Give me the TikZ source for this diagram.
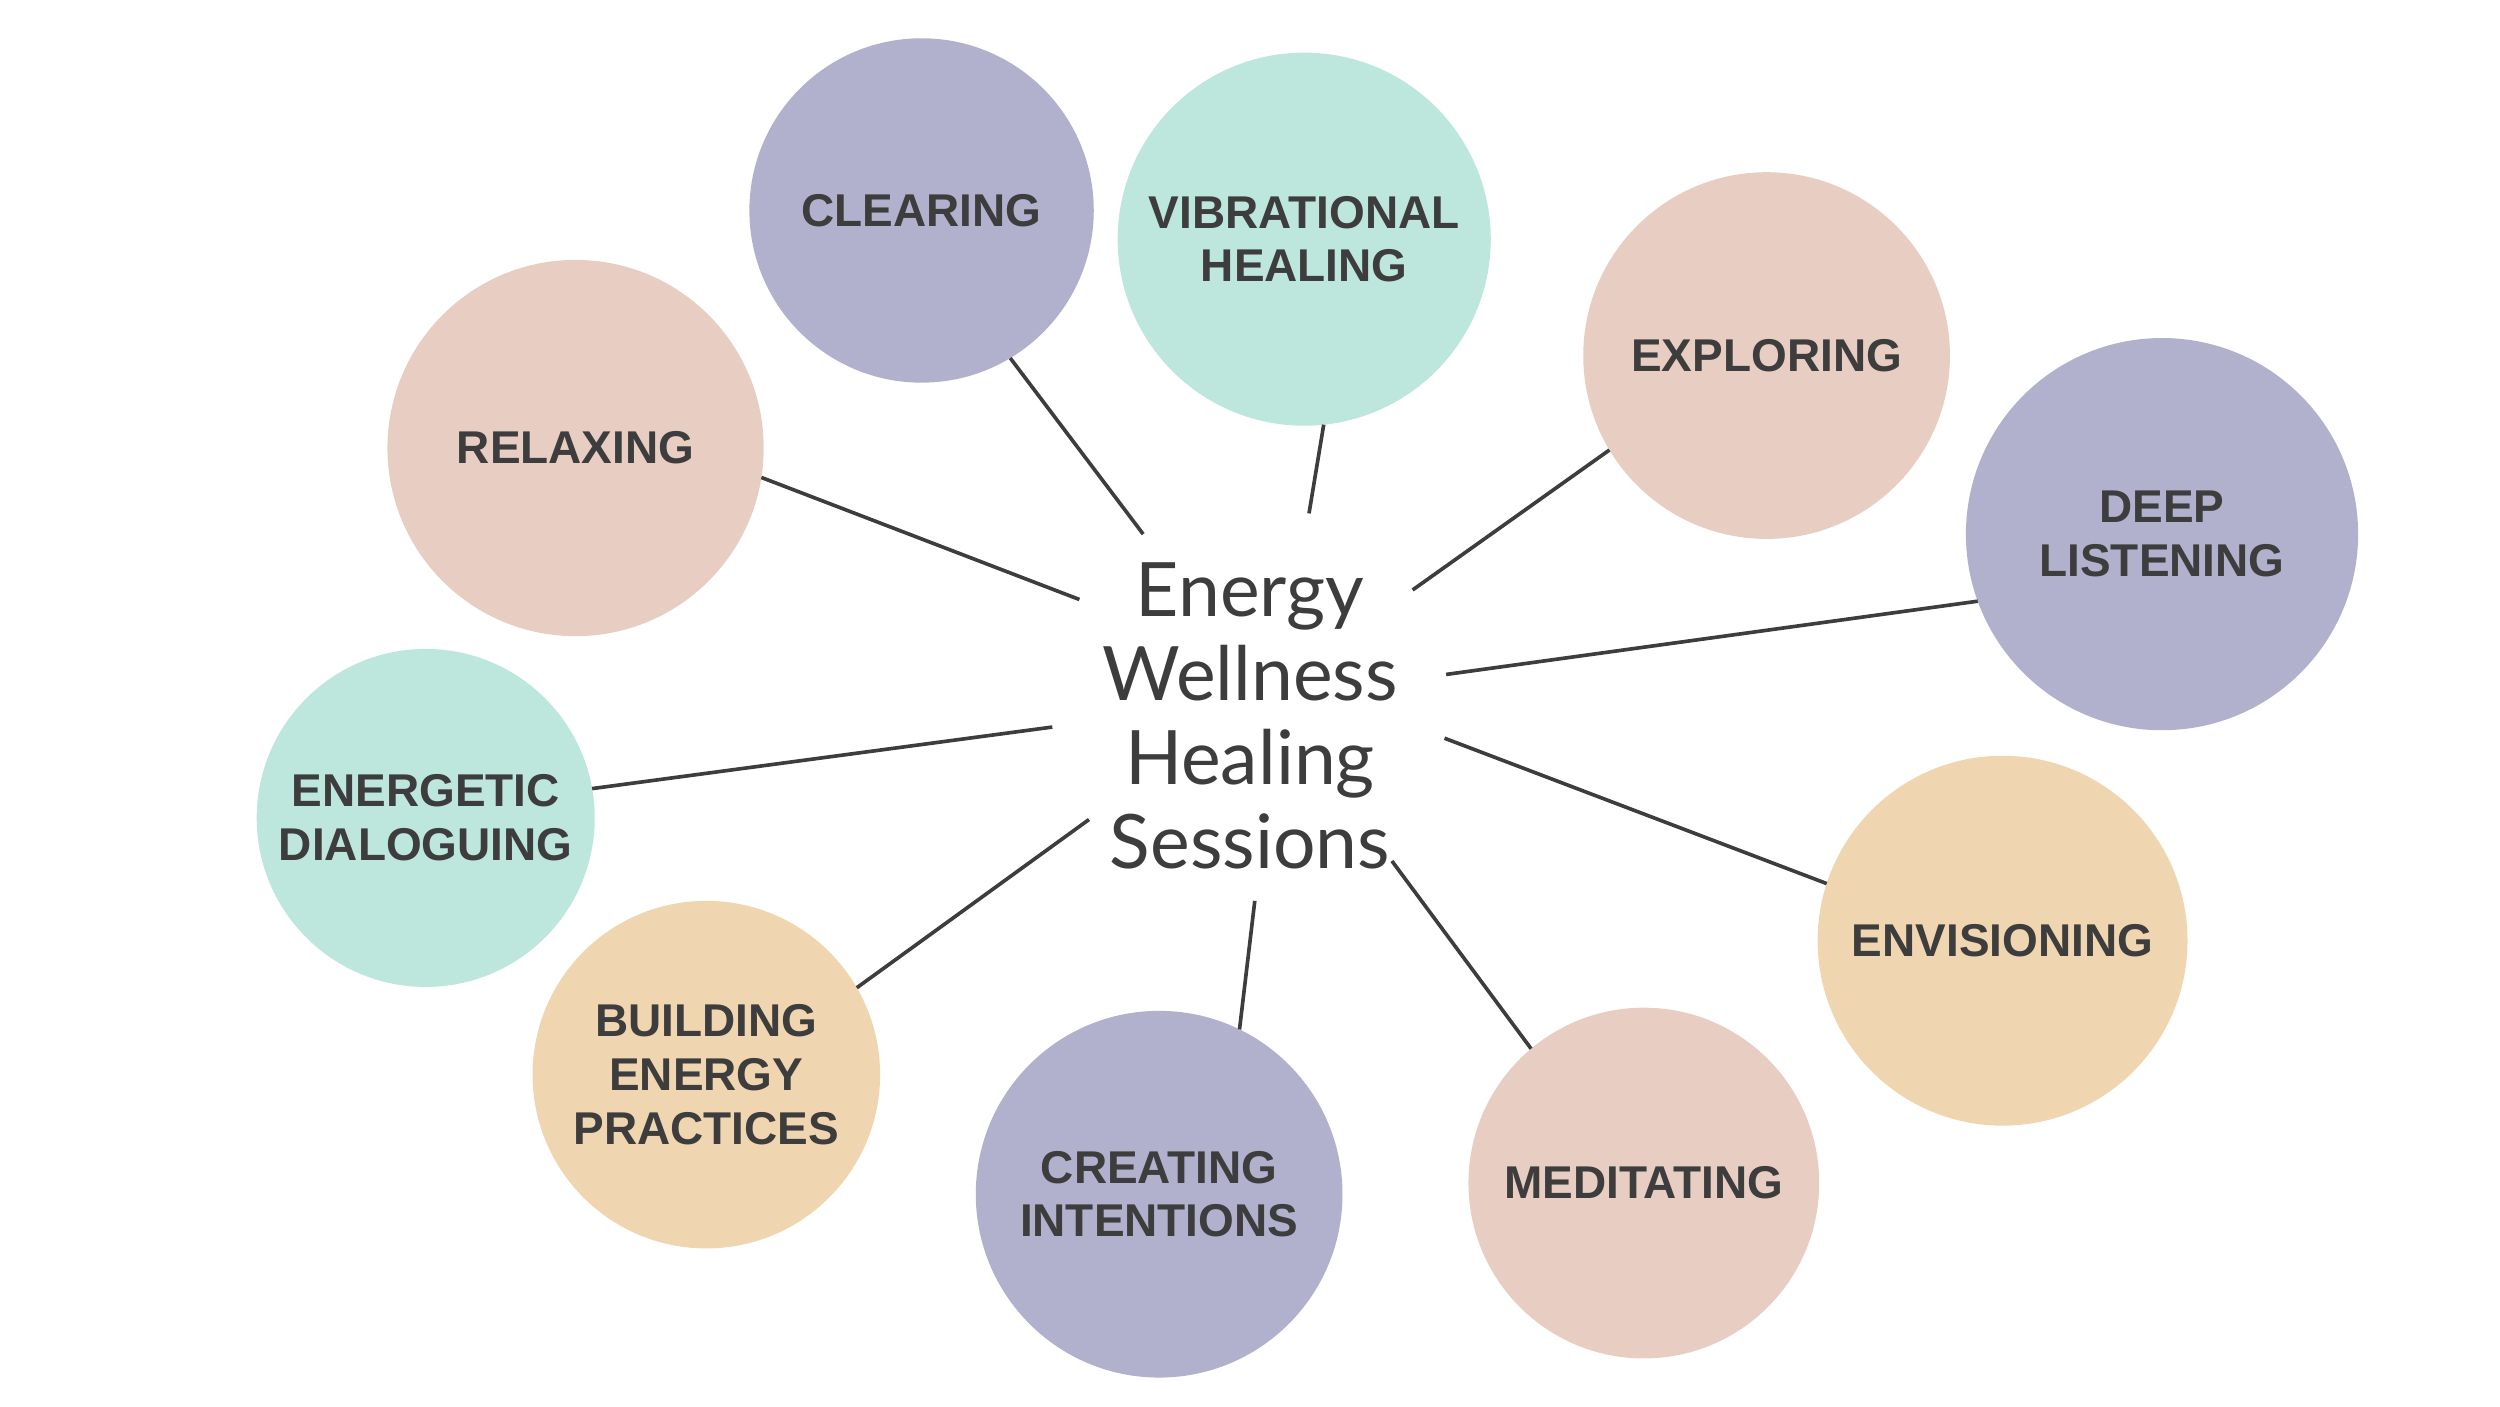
\documentclass[tikz,border=0pt]{standalone}
\usepackage{fontspec}
\setmainfont{Liberation Sans}
\newfontfamily\fuentecentro{Lato}
\usepackage{tikz}
\definecolor{morado}{RGB}{177,177,206}
\definecolor{menta}{RGB}{189,230,220}
\definecolor{rosa}{RGB}{232,205,194}
\definecolor{arena}{RGB}{240,214,176}
\definecolor{gristexto}{RGB}{61,61,61}

\begin{document}
\begin{tikzpicture}[
		burbuja/.style = {
			circle,
			inner sep=0pt,
			outer sep=0pt,
			align=center,
			text=gristexto,
			font=\fontsize{8.2}{9.6}\selectfont\bfseries   % Etiquetas en mayusculas
		},
		centro/.style = {
			align=center,
			text=gristexto,
			font=\fuentecentro\fontsize{13.4}{15}\selectfont
		},
		enlace/.style = {draw=gristexto, line width=0.65pt}
		]
		
		\useasboundingbox (0,0) rectangle (15.68,8.82);
		
		% Nodo central
		\node[centro] (sesiones) at (7.84,4.33)
		{Energy\\Wellness\\Healing\\Sessions};
		
		% Burbujas - arriba
		\node[burbuja, fill=morado, minimum size=2.16cm] (clearing) at (5.78,7.50) {CLEARING};
		\node[burbuja, fill=menta, minimum size=2.34cm] (vibrational) at (8.18,7.32) {VIBRATIONAL\\HEALING};
		\node[burbuja, fill=rosa, minimum size=2.30cm] (exploring) at (11.08,6.59) {EXPLORING};
		
		% Burbujas - derecha
		\node[burbuja, fill=morado, minimum size=2.46cm] (listening) at (13.56,5.47) {DEEP\\LISTENING};
		\node[burbuja, fill=arena, minimum size=2.32cm] (envisioning) at (12.56,2.92) {ENVISIONING};
		
		% Burbujas - abajo
		\node[burbuja, fill=rosa, minimum size=2.20cm] (meditating) at (10.31,1.40) {MEDITATING};
		\node[burbuja, fill=morado, minimum size=2.30cm] (creating) at (7.27,1.33) {CREATING\\INTENTIONS};
		\node[burbuja, fill=arena, minimum size=2.18cm] (building) at (4.43,2.08) {BUILDING\\ENERGY\\PRACTICES};
		
		% Burbujas - izquierda
		\node[burbuja, fill=menta, minimum size=2.12cm] (dialoguing) at (2.67,3.69) {ENERGETIC\\DIALOGUING};
		\node[burbuja, fill=rosa, minimum size=2.36cm] (relaxing) at (3.61,6.01) {RELAXING};
		
		% Extremos libres junto al texto central
		\coordinate (pClearing) at (7.17,5.47);
		\coordinate (pVibrational) at (8.21,5.60);
		\coordinate (pExploring) at (8.86,5.12);
		\coordinate (pListening) at (9.07,4.59);
		\coordinate (pEnvisioning) at (9.06,4.19);
		\coordinate (pMeditating) at (8.73,3.42);
		\coordinate (pCreating) at (7.87,3.17);
		\coordinate (pBuilding) at (6.83,3.68);
		\coordinate (pDialoguing) at (6.60,4.26);
		\coordinate (pRelaxing) at (6.77,5.06);
		
		% Enlaces
		\draw[enlace] (pClearing) -- (clearing.-59);
		\draw[enlace] (pVibrational) -- (vibrational.-84.6);
		\draw[enlace] (pExploring) -- (exploring.211);
		\draw[enlace] (pListening) -- (listening.200.6);
		\draw[enlace] (pEnvisioning) -- (envisioning.162);
		\draw[enlace] (pMeditating) -- (meditating.130.2);
		\draw[enlace] (pCreating) -- (creating.64.1);
		\draw[enlace] (pBuilding) -- (building.30.7);
		\draw[enlace] (pDialoguing) -- (dialoguing.10.8);
		\draw[enlace] (pRelaxing) -- (relaxing.-9.3);
		
	\end{tikzpicture}
\end{document}
